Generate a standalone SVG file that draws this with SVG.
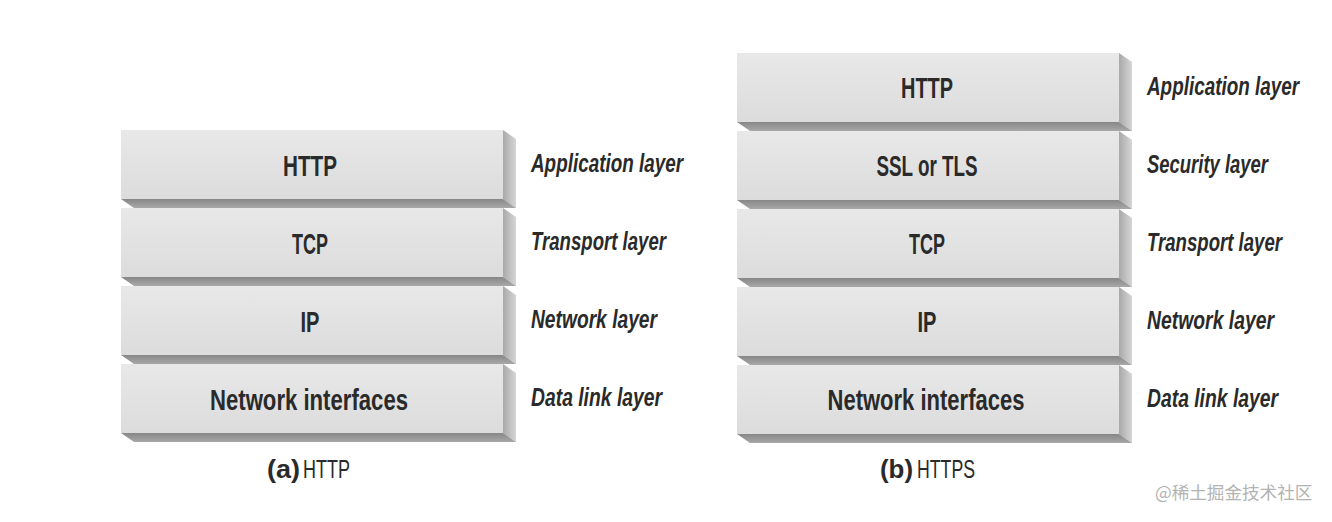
<svg xmlns="http://www.w3.org/2000/svg" xmlns:xlink="http://www.w3.org/1999/xlink" width="1332" height="522" viewBox="0 0 1332 522">
<defs>
<linearGradient id="gFace" x1="0" y1="0" x2="0" y2="1">
<stop offset="0" stop-color="#e8e8e8"/>
<stop offset="1" stop-color="#dcdcdc"/>
</linearGradient>
<linearGradient id="gSide" x1="0" y1="0" x2="1" y2="0">
<stop offset="0" stop-color="#a9a9a9"/>
<stop offset="0.6" stop-color="#c4c4c4"/>
<stop offset="1" stop-color="#d6d6d6"/>
</linearGradient>
<linearGradient id="gBottom" x1="0" y1="0" x2="0" y2="1">
<stop offset="0" stop-color="#878787"/>
<stop offset="1" stop-color="#a8a8a8"/>
</linearGradient>
<g id="slab">
<polygon points="382,0 395,9 395,78 382,69" fill="url(#gSide)"/>
<polygon points="0,69 382,69 395,78 13,78" fill="url(#gBottom)"/>
<rect x="0" y="0" width="382" height="69" fill="url(#gFace)"/>
</g>
</defs>
<style>
.box{font-family:"Liberation Sans","Noto Sans",sans-serif;font-size:30px;font-weight:bold;fill:#2a2a2a;text-anchor:middle}
.lbl{font-family:"Liberation Sans","Noto Sans",sans-serif;font-size:20px;font-style:italic;font-weight:bold;fill:#2a2a2a}
.cap{font-family:"Liberation Sans","Noto Sans",sans-serif;font-size:25px;fill:#2a2a2a}
.wm{font-family:"Noto Sans CJK SC","Noto Sans",sans-serif;font-size:17.6px;fill:#b3b3b3}
</style>
<rect width="1332" height="522" fill="#ffffff"/>
<g id="connectors"/>
<!-- Left stack: HTTP -->
<g id="a-http">
<use xlink:href="#slab" x="121" y="130"/>
<text class="box" x="310" y="176" textLength="54" lengthAdjust="spacingAndGlyphs">HTTP</text>
<text class="lbl" transform="translate(531,172) scale(1,1.25)" textLength="152" lengthAdjust="spacingAndGlyphs">Application layer</text>
</g>
<g id="a-tcp">
<use xlink:href="#slab" x="121" y="208"/>
<text class="box" x="310" y="254" textLength="36" lengthAdjust="spacingAndGlyphs">TCP</text>
<text class="lbl" transform="translate(531,250) scale(1,1.25)" textLength="135" lengthAdjust="spacingAndGlyphs">Transport layer</text>
</g>
<g id="a-ip">
<use xlink:href="#slab" x="121" y="286"/>
<text class="box" x="310" y="332" textLength="19" lengthAdjust="spacingAndGlyphs">IP</text>
<text class="lbl" transform="translate(531,328) scale(1,1.25)" textLength="126" lengthAdjust="spacingAndGlyphs">Network layer</text>
</g>
<g id="a-net">
<use xlink:href="#slab" x="121" y="364"/>
<text class="box" x="309" y="410" textLength="198" lengthAdjust="spacingAndGlyphs">Network interfaces</text>
<text class="lbl" transform="translate(531,406) scale(1,1.25)" textLength="131" lengthAdjust="spacingAndGlyphs">Data link layer</text>
</g>
<g id="a-caption">
<text class="cap" x="267" y="478"><tspan font-weight="bold" textLength="33" lengthAdjust="spacingAndGlyphs">(a)</tspan><tspan x="303" textLength="47" lengthAdjust="spacingAndGlyphs">HTTP</tspan></text>
</g>
<!-- Right stack: HTTPS -->
<g id="b-http">
<use xlink:href="#slab" x="737" y="53"/>
<text class="box" x="927" y="98" textLength="52" lengthAdjust="spacingAndGlyphs">HTTP</text>
<text class="lbl" transform="translate(1147,95) scale(1,1.25)" textLength="152" lengthAdjust="spacingAndGlyphs">Application layer</text>
</g>
<g id="b-ssl">
<use xlink:href="#slab" x="737" y="131"/>
<text class="box" x="927" y="176" textLength="101" lengthAdjust="spacingAndGlyphs">SSL or TLS</text>
<text class="lbl" transform="translate(1147,173) scale(1,1.25)" textLength="121" lengthAdjust="spacingAndGlyphs">Security layer</text>
</g>
<g id="b-tcp">
<use xlink:href="#slab" x="737" y="209"/>
<text class="box" x="927" y="254" textLength="36" lengthAdjust="spacingAndGlyphs">TCP</text>
<text class="lbl" transform="translate(1147,251) scale(1,1.25)" textLength="135" lengthAdjust="spacingAndGlyphs">Transport layer</text>
</g>
<g id="b-ip">
<use xlink:href="#slab" x="737" y="287"/>
<text class="box" x="927" y="332" textLength="19" lengthAdjust="spacingAndGlyphs">IP</text>
<text class="lbl" transform="translate(1147,329) scale(1,1.25)" textLength="127" lengthAdjust="spacingAndGlyphs">Network layer</text>
</g>
<g id="b-net">
<use xlink:href="#slab" x="737" y="365"/>
<text class="box" x="926" y="410" textLength="197" lengthAdjust="spacingAndGlyphs">Network interfaces</text>
<text class="lbl" transform="translate(1147,407) scale(1,1.25)" textLength="131" lengthAdjust="spacingAndGlyphs">Data link layer</text>
</g>
<g id="b-caption">
<text class="cap" x="880" y="478"><tspan font-weight="bold" textLength="33" lengthAdjust="spacingAndGlyphs">(b)</tspan><tspan x="917" textLength="58" lengthAdjust="spacingAndGlyphs">HTTPS</tspan></text>
</g>
<text class="wm" x="1155" y="499">@稀土掘金技术社区</text>
</svg>
